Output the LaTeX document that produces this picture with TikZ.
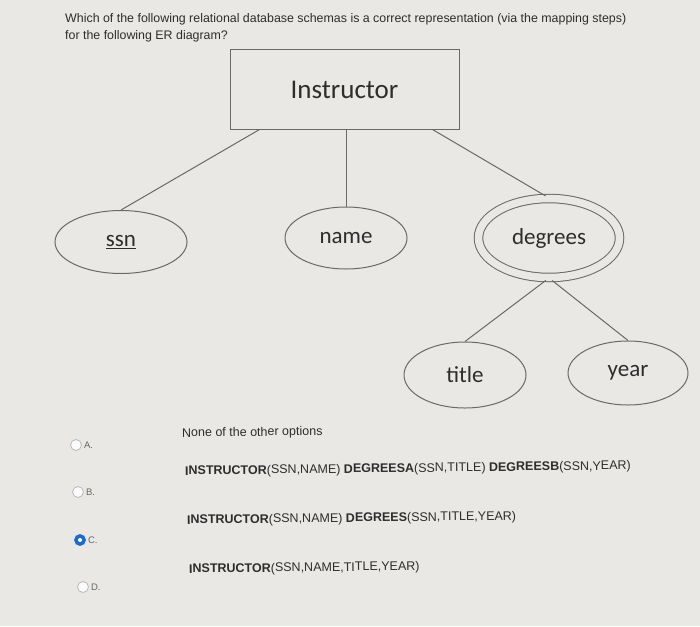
\documentclass[tikz,border=0pt]{standalone}
\usepackage{fontspec}
\setmainfont{Liberation Sans}
\newfontfamily\erfont{Carlito}
\usetikzlibrary{shapes.geometric}
\definecolor{bgpaper}{RGB}{233,232,228}
\definecolor{inkgray}{RGB}{45,45,45}
\definecolor{linegray}{RGB}{105,105,105}
\definecolor{radioblue}{RGB}{28,108,208}

\begin{document}
\begin{tikzpicture}[x=1pt,y=-1pt,
    entity/.style={draw=linegray,line width=1pt,minimum width=229pt,minimum height=79pt,
        font=\erfont\fontsize{27}{32}\selectfont,text=inkgray},
    attr/.style={draw=linegray,ellipse,line width=1pt,inner sep=0pt,
        font=\erfont\fontsize{23}{27}\selectfont,text=inkgray},
    link/.style={draw=linegray,line width=1pt},
    question/.style={anchor=base west,inner sep=0pt,text=inkgray,font=\fontsize{12.4}{15}\selectfont},
    option/.style={anchor=base west,inner sep=0pt,text=inkgray,font=\fontsize{12.5}{14}\selectfont,rotate=0.7},
    radio/.style={circle,draw=gray!55,fill=white!80!bgpaper,line width=0.8pt,minimum size=11pt,inner sep=0pt},
    radiolabel/.style={anchor=west,inner sep=0pt,text=gray!80!black,font=\fontsize{9.5}{10}\selectfont}]
    \fill[bgpaper] (0,0) rectangle (700,626);
    \useasboundingbox (0,0) rectangle (700,626);

    \node[question] (q1) at (65,23) {Which of the following relational database schemas is a correct representation (via the mapping steps)};
    \node[question] (q2) at (65,40) {for the following ER diagram?};

    \node[entity] (inst) at (344.5,89.5) {Instructor};
    \node[attr,minimum width=132pt,minimum height=63pt] (ssn) at (121,242) {\underline{ssn}};
    \node[attr,minimum width=122pt,minimum height=62pt] (name) at (346,238) {name};
    \node[attr,minimum width=141pt,minimum height=79pt,double=bgpaper,double distance=7.5pt] (deg) at (549,238) {degrees};
    \node[attr,minimum width=122pt,minimum height=66pt] (title) at (465,375) {title};
    \node[attr,minimum width=120pt,minimum height=64pt] (year) at (628,373) {year};

    \draw[link] ([xshift=30pt]inst.south west) -- (ssn.north);
    \draw[link] (inst.south -| name) -- (name.north);
    \draw[link,shorten >=4pt] ([xshift=-27pt]inst.south east) -- (deg.north);
    \draw[link,shorten <=4pt] (deg.south) -- (title.north);
    \draw[link,shorten <=4pt] (deg.south) -- (year.north);

    \node[option] (oa) at (182,437) {None of the other options};
    \node[option] (ob) at (185,475) {\textbf{INSTRUCTOR}(SSN,NAME) \textbf{DEGREESA}(SSN,TITLE) \textbf{DEGREESB}(SSN,YEAR)};
    \node[option] (oc) at (187,524) {\textbf{INSTRUCTOR}(SSN,NAME) \textbf{DEGREES}(SSN,TITLE,YEAR)};
    \node[option] (od) at (189,573) {\textbf{INSTRUCTOR}(SSN,NAME,TITLE,YEAR)};

    \node[radio] (ra) at (76,445) {};
    \node[radio] (rb) at (78,492) {};
    \node[radio,draw=radioblue,fill=radioblue] (rc) at (80,540) {};
    \node[circle,fill=white,minimum size=4pt,inner sep=0pt] (rcdot) at (rc) {};
    \node[radio] (rd) at (83,587) {};
    \node[radiolabel] (la) at ([xshift=2pt]ra.east) {A.};
    \node[radiolabel] (lb) at ([xshift=2pt]rb.east) {B.};
    \node[radiolabel] (lc) at ([xshift=2pt]rc.east) {C.};
    \node[radiolabel] (ld) at ([xshift=2pt]rd.east) {D.};
\end{tikzpicture}
\end{document}
